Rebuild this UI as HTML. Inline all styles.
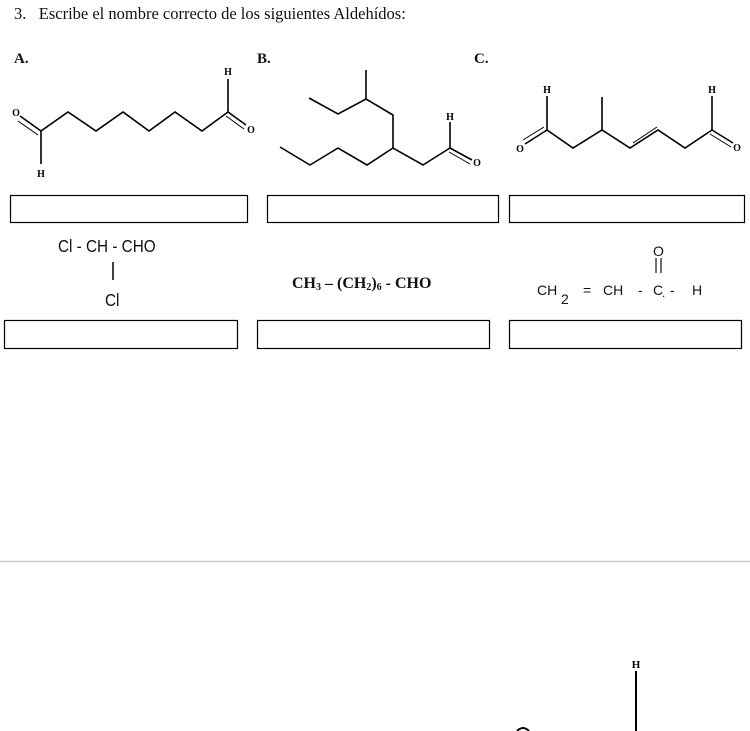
<!DOCTYPE html>
<html><head><meta charset="utf-8"><style>
html,body{margin:0;padding:0;background:#fff;width:750px;height:731px;overflow:hidden}
svg{display:block}
</style></head><body>
<svg width="750" height="731" viewBox="0 0 750 731" xmlns="http://www.w3.org/2000/svg">
<g font-family="Liberation Serif, serif" fill="#111">
<text x="14" y="19" font-size="16.5">3.&#160;&#160; Escribe el nombre correcto de los siguientes Aldehídos:</text>
<text x="14" y="63" font-size="15" font-weight="bold">A.</text>
<text x="257" y="63" font-size="15" font-weight="bold">B.</text>
<text x="474" y="63" font-size="15" font-weight="bold">C.</text>
</g>
<g stroke="#000" stroke-width="1.6" fill="none" stroke-linejoin="miter">
<!-- A -->
<polyline points="41,131 68,112 96,131 123,112 149,131 175,112 202,131 228,112"/>
<line x1="41" y1="131" x2="41" y2="164"/>
<line x1="41" y1="131" x2="20" y2="116"/><line x1="38" y1="135" x2="18" y2="121" stroke-width="1"/>
<line x1="228" y1="112" x2="228" y2="79"/>
<line x1="228" y1="112" x2="246" y2="125"/><line x1="226" y1="116" x2="244" y2="129" stroke-width="1"/>
<!-- B -->
<polyline points="280,147 310,165 338,148 367,165 393,148 423,165 450,148"/>
<line x1="450" y1="148" x2="450" y2="122"/>
<line x1="450" y1="148" x2="472" y2="160"/><line x1="449" y1="152" x2="470" y2="164" stroke-width="1"/>
<polyline points="393,148 393,115 366,99 338,114 309,98"/>
<line x1="366" y1="99" x2="366" y2="70"/>
<!-- C -->
<polyline points="547,130 573,148 602,130 630,148 658,130 685,148 712,130"/>
<line x1="633" y1="143" x2="657" y2="127" stroke-width="1"/>
<line x1="602" y1="130" x2="602" y2="97"/>
<line x1="547" y1="130" x2="547" y2="96"/>
<line x1="547" y1="130" x2="525" y2="144"/><line x1="544" y1="127" x2="523" y2="140" stroke-width="1"/>
<line x1="712" y1="130" x2="712" y2="96"/>
<line x1="712" y1="130" x2="733" y2="143"/><line x1="710" y1="134" x2="731" y2="147" stroke-width="1"/>
</g>
<g font-family="Liberation Serif, serif" font-weight="bold" font-size="10" fill="#000" text-anchor="middle">
<text x="16" y="116">O</text><text x="41" y="177">H</text>
<text x="228" y="75">H</text><text x="251" y="133">O</text>
<text x="450" y="120">H</text><text x="477" y="166">O</text>
<text x="520" y="152">O</text><text x="547" y="93">H</text>
<text x="712" y="93">H</text><text x="737" y="151">O</text>
</g>
<g fill="none" stroke="#000" stroke-width="1.2">
<rect x="10.5" y="195.5" width="237" height="27"/>
<rect x="267.5" y="195.5" width="231" height="27"/>
<rect x="509.5" y="195.5" width="235" height="27"/>
<rect x="4.5" y="320.5" width="233" height="28"/>
<rect x="257.5" y="320.5" width="232" height="28"/>
<rect x="509.5" y="320.5" width="232" height="28"/>
</g>
<g font-family="Liberation Sans, sans-serif" fill="#111">
<text x="58" y="252" font-size="18" transform="translate(58 252) scale(0.85 1) translate(-58 -252)">Cl - CH - CHO</text>
<line x1="113" y1="262" x2="113" y2="280" stroke="#111" stroke-width="1.6"/>
<text x="105" y="306" font-size="18" transform="translate(105 306) scale(0.85 1) translate(-105 -306)">Cl</text>
<text x="537" y="295" font-size="14">CH</text>
<text x="561" y="304" font-size="14">2</text>
<text x="583" y="295" font-size="14">=</text>
<text x="603" y="295" font-size="14">CH</text>
<text x="638" y="295" font-size="14">-</text>
<text x="653" y="295" font-size="14">C</text>
<text x="662" y="297" font-size="12">.</text>
<text x="670" y="295" font-size="14">-</text>
<text x="692" y="295" font-size="14">H</text>
<text x="653" y="256" font-size="14">O</text>
<line x1="656" y1="258" x2="656" y2="273" stroke="#111" stroke-width="1.2"/>
<line x1="661" y1="258" x2="661" y2="273" stroke="#111" stroke-width="1.2"/>
</g>
<text x="292" y="288" font-family="Liberation Serif, serif" font-weight="bold" font-size="16" fill="#111">CH<tspan font-size="10" dy="2">3</tspan><tspan dy="-2"> – (CH</tspan><tspan font-size="10" dy="2">2</tspan><tspan dy="-2">)</tspan><tspan font-size="10" dy="2">6</tspan><tspan dy="-2"> - CHO</tspan></text>
<line x1="0" y1="561.5" x2="750" y2="561.5" stroke="#c8c8c8" stroke-width="1.5"/>
<text x="636" y="668" font-family="Liberation Serif, serif" font-weight="bold" font-size="11" text-anchor="middle">H</text>
<line x1="636" y1="671" x2="636" y2="731" stroke="#000" stroke-width="2"/>
<path d="M517 731 Q523 725 529 731" fill="none" stroke="#000" stroke-width="2"/>
</svg>
</body></html>
